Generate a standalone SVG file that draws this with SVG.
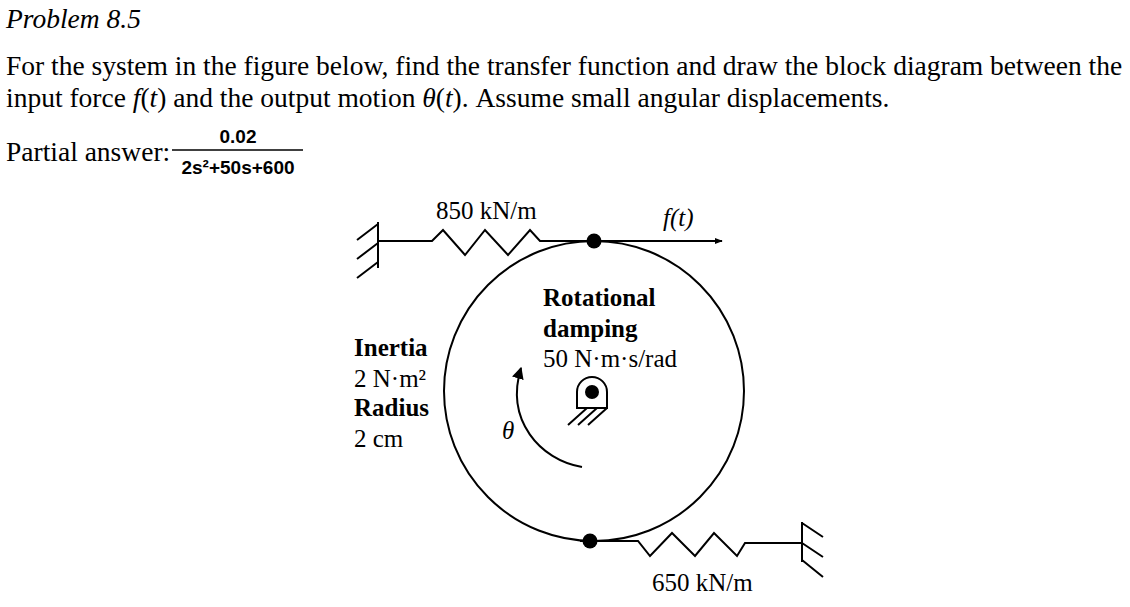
<svg xmlns="http://www.w3.org/2000/svg" width="1130" height="607" viewBox="0 0 1130 607">
<style>
text{font-family:"Liberation Serif",serif;fill:#000}
.t{font-size:27.5px}.l{font-size:25px}.b{font-weight:bold}
.s{fill:none;stroke:#000;stroke-width:2}
.f{font-family:"Liberation Sans",sans-serif;font-size:19px;font-weight:bold}
</style>
<defs><marker id="a" viewBox="0 0 10 10" refX="9" refY="5" markerWidth="8" markerHeight="8" markerUnits="userSpaceOnUse" orient="auto"><path d="M0,1L10,5L0,9z" fill="#000"/></marker>
<marker id="a2" viewBox="0 0 10 10" refX="9" refY="5" markerWidth="12" markerHeight="12" markerUnits="userSpaceOnUse" orient="auto"><path d="M0,0L10,5L0,10z" fill="#000"/></marker></defs>
<rect width="1130" height="607" fill="#fff"/>
<text x="6" y="28" class="t" font-style="italic">Problem 8.5</text>
<text x="6" y="75" class="t">For the system in the figure below, find the transfer function and draw the block diagram between the</text>
<text x="6" y="107" class="t">input force <tspan font-style="italic">f</tspan>(<tspan font-style="italic">t</tspan>) and the output motion <tspan font-style="italic">θ</tspan>(<tspan font-style="italic">t</tspan>). Assume small angular displacements.</text>
<text x="6" y="161" class="t">Partial answer:</text>
<text x="238" y="143" class="f" text-anchor="middle">0.02</text>
<line x1="172" y1="150" x2="303" y2="150" stroke="#000" stroke-width="1.5"/>
<text x="238" y="174" class="f" text-anchor="middle">2s²+50s+600</text>
<g id="disk"><circle cx="594" cy="391" r="150" class="s" stroke-width="1.5"/></g>
<g id="wall1"><path class="s" d="M378,222V268M378,224L357,240M378,243L357,259M378,262L357,278"/></g>
<g id="wall2"><path class="s" d="M802,522V562M802,523L823,537M802,543L823,557M802,560L823,577"/></g>
<g id="pivot"><path class="s" d="M577,408V392A15,15 0 0 1 607,392V408Z"/><circle cx="592" cy="392" r="7"/><path class="s" d="M587,408L568,425M597,408L578,425M607,408L588,425"/></g>
<g id="connectors">
<path class="s" d="M378,241H432L443,230L465,255L485,230L508,255L530,230L540,241H594"/>
<line x1="594" y1="241" x2="722" y2="241" class="s" stroke-width="1.5" marker-end="url(#a)"/>
<circle cx="594" cy="241" r="7.5"/>
<path class="s" d="M580,541H638L650,556L672,533L695,556L714,533L737,556L745,543H802"/>
<circle cx="590" cy="541" r="7.5"/>
<path class="s" d="M582,467C540,460 505,420 521,368" marker-end="url(#a2)"/>
</g>
<text x="436" y="219" class="l">850 kN/m</text>
<text x="663" y="226" class="l" font-style="italic">f(t)</text>
<text x="543" y="306" class="l b">Rotational</text>
<text x="543" y="337" class="l b">damping</text>
<text x="543" y="367" class="l">50 N·m·s/rad</text>
<text x="354" y="356" class="l b">Inertia</text>
<text x="354" y="387" class="l">2 N·m²</text>
<text x="354" y="416" class="l b">Radius</text>
<text x="354" y="447" class="l">2 cm</text>
<text x="502" y="439" class="l" font-style="italic">θ</text>
<text x="652" y="591" class="l">650 kN/m</text>
</svg>
